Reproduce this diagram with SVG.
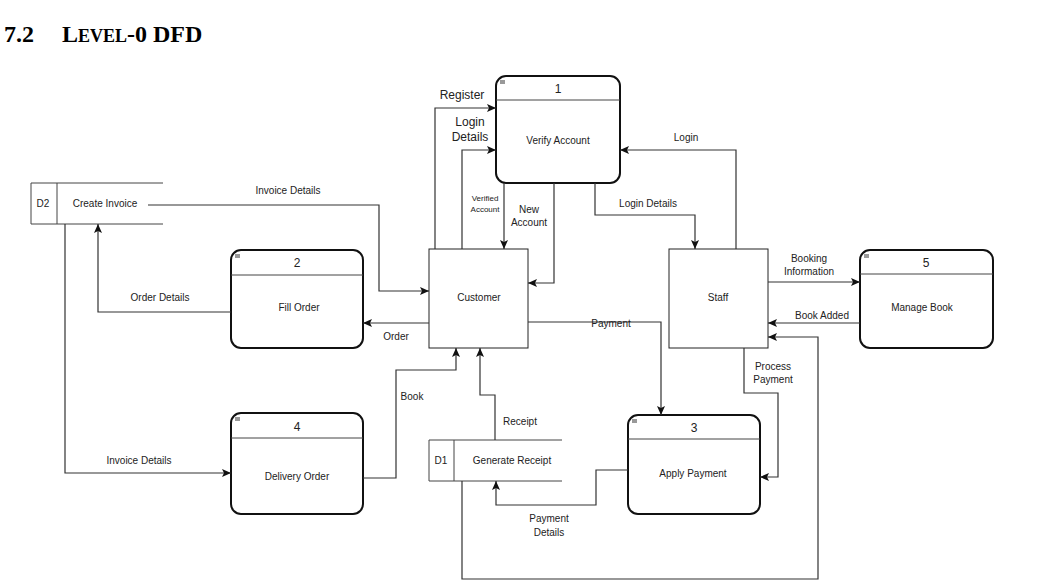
<svg xmlns="http://www.w3.org/2000/svg" width="1063" height="588" viewBox="0 0 1063 588">
<style>
text{font-family:"Liberation Sans",Arial,sans-serif;fill:#222;text-anchor:middle}
.t{font-family:"Liberation Serif","Times New Roman",serif;font-weight:bold;text-anchor:start;fill:#000}
.s{font-size:10px}.m{font-size:12px}.xs{font-size:8px}
.p{fill:#fff;stroke:#111;stroke-width:2}
.e{fill:#fff;stroke:#222;stroke-width:1}
.c path{fill:none;stroke:#333;stroke-width:1.2;marker-end:url(#a)}
.ln{stroke:#444;stroke-width:1;fill:none}
.ic{fill:#999}
</style>
<defs><marker id="a" markerWidth="10" markerHeight="10" refX="9" refY="5" orient="auto" markerUnits="userSpaceOnUse"><path d="M0,1 L9,5 L0,9 L2,5 Z" fill="#111"/></marker></defs>
<rect width="1063" height="588" fill="#fff"/>
<text class="t" x="4" y="42" font-size="24">7.2<tspan x="62">L</tspan><tspan font-size="18">EVEL</tspan>-0 DFD</text>

<g id="p1"><rect class="p" x="496" y="76" width="124" height="107" rx="10"/><line class="ln" stroke-width="2" x1="496" y1="100" x2="620" y2="100"/><rect class="ic" x="500" y="80" width="5" height="4"/><text class="m" x="558" y="93">1</text><text class="s" x="558" y="144">Verify Account</text></g>
<g id="p2"><rect class="p" x="231" y="250" width="132" height="98" rx="10"/><line class="ln" stroke-width="2" x1="231" y1="275" x2="363" y2="275"/><rect class="ic" x="235" y="254" width="5" height="4"/><text class="m" x="297" y="267">2</text><text class="s" x="299" y="311">Fill Order</text></g>
<g id="p3"><rect class="p" x="628" y="415" width="132" height="99" rx="10"/><line class="ln" stroke-width="2" x1="628" y1="439" x2="760" y2="439"/><rect class="ic" x="632" y="419" width="5" height="4"/><text class="m" x="694" y="432">3</text><text class="s" x="693" y="477">Apply Payment</text></g>
<g id="p4"><rect class="p" x="231" y="413" width="132" height="101" rx="10"/><line class="ln" stroke-width="2" x1="231" y1="438" x2="363" y2="438"/><rect class="ic" x="235" y="417" width="5" height="4"/><text class="m" x="297" y="431">4</text><text class="s" x="297" y="480">Delivery Order</text></g>
<g id="p5"><rect class="p" x="860" y="250" width="133" height="98" rx="10"/><line class="ln" stroke-width="2" x1="860" y1="274" x2="993" y2="274"/><rect class="ic" x="864" y="254" width="5" height="4"/><text class="m" x="926" y="267">5</text><text class="s" x="922" y="311">Manage Book</text></g>
<g id="customer"><rect class="e" x="429" y="249" width="99" height="99"/><text class="s" x="479" y="301">Customer</text></g>
<g id="staff"><rect class="e" x="669" y="249" width="99" height="99"/><text class="s" x="718" y="301">Staff</text></g>
<g id="d2"><path class="ln" d="M163,183 H31 V224 H163 M57,183 V224"/><text class="s" x="43" y="207">D2</text><text class="s" x="105" y="207">Create Invoice</text></g>
<g id="d1"><path class="ln" d="M562,440 H429 V481 H562 M454,440 V481"/><text class="s" x="441" y="464">D1</text><text class="s" x="512" y="464">Generate Receipt</text></g>

<g id="connectors" class="c">
<path d="M435,249 V108 H496"/>
<path d="M462,249 V150 H496"/>
<path d="M504,183 V249"/>
<path d="M554,183 V283 H528"/>
<path d="M595,183 V215 H695 V249"/>
<path d="M736,249 V150 H620"/>
<path d="M148,205 H379 V291 H429"/>
<path d="M231,312 H98 V224"/>
<path d="M429,323 H363"/>
<path d="M65,224 V473 H231"/>
<path d="M363,478 H396 V370 H456 V348"/>
<path d="M495,440 V395 H480 V348"/>
<path d="M528,322 H661 V415"/>
<path d="M768,282 H860"/>
<path d="M860,323 H768"/>
<path d="M744,348 V393 H778 V477 H760"/>
<path d="M628,470 H596 V505 H496 V481"/>
<path d="M462,481 V579 H818 V337 H768"/>
</g>
<g id="labels">
<text class="m" x="462" y="99">Register</text>
<text class="m" x="470" y="126">Login</text><text class="m" x="470" y="141">Details</text>
<text class="xs" x="485" y="201">Verified</text><text class="xs" x="485" y="212">Account</text>
<text class="s" x="529" y="213">New</text><text class="s" x="529" y="226">Account</text>
<text class="s" x="648" y="207">Login Details</text>
<text class="s" x="686" y="141">Login</text>
<text class="s" x="288" y="194">Invoice Details</text>
<text class="s" x="160" y="301">Order Details</text>
<text class="s" x="396" y="340">Order</text>
<text class="s" x="139" y="464">Invoice Details</text>
<text class="s" x="412" y="400">Book</text>
<text class="s" x="520" y="425">Receipt</text>
<text class="s" x="611" y="327">Payment</text>
<text class="s" x="809" y="262">Booking</text><text class="s" x="809" y="275">Information</text>
<text class="s" x="822" y="319">Book Added</text>
<text class="s" x="773" y="370">Process</text><text class="s" x="773" y="383">Payment</text>
<text class="s" x="549" y="522">Payment</text><text class="s" x="549" y="536">Details</text>
</g>
</svg>
